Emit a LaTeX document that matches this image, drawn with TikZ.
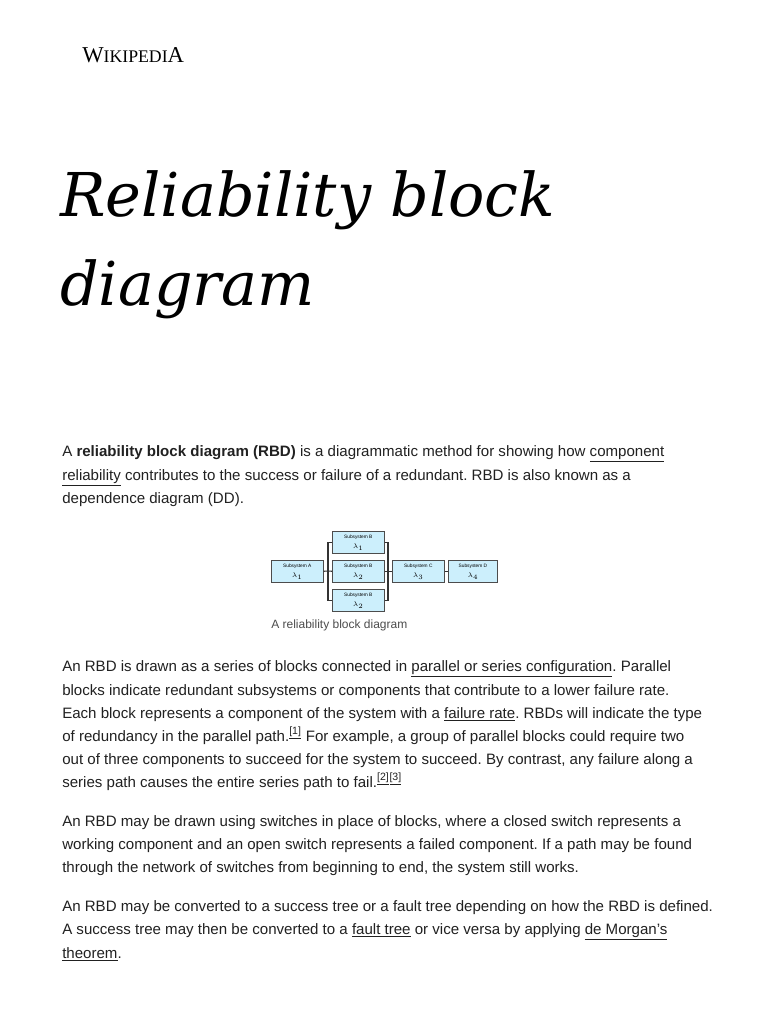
\documentclass[tikz,border=0pt]{standalone}
\usepackage{fontspec}
\setmainfont{Liberation Sans}
\newfontfamily\titlefont{DejaVu Serif}
\newfontfamily\logofont{Liberation Serif}
\newcommand{\lk}[1]{\underline{#1}}
\newcommand{\rf}[1]{\textsuperscript{\underline{#1}}}
\frenchspacing
\begin{document}
\begin{tikzpicture}[x=0.75pt,y=-0.75pt,
  body/.style={anchor=base west,inner sep=0pt,font=\fontsize{11.3}{13}\selectfont,text=black!87},
  blk/.style={draw=black!70,fill=cyan!20,line width=0.4pt,minimum width=39pt,minimum height=16.5pt,inner sep=0pt,anchor=north west},
  tiny/.style={font=\fontsize{3.6}{4}\selectfont,inner sep=0pt},
  wire/.style={line width=0.8pt,black!80}]
\useasboundingbox (0,0) rectangle (768,1024);
\fill[white] (0,0) rectangle (768,1024);
\node[anchor=base west,inner sep=0pt] (logo) at (82,63) {\logofont\fontsize{17}{17}\selectfont W\fontsize{13.3}{14}\selectfont IKIPEDI\fontsize{17}{17}\selectfont A};
\node[anchor=base west,inner sep=0pt] (t1) at (60,216) {\titlefont\itshape\fontsize{45.3}{50}\selectfont Reliability block};
\node[anchor=base west,inner sep=0pt] (t2) at (60,305) {\titlefont\itshape\fontsize{45.3}{50}\selectfont diagram};
\node[body] (p1) at (62,456) {A \textbf{reliability block diagram (RBD)} is a diagrammatic method for showing how \lk{component}};
\node[body] (p2) at (62,480) {\lk{reliability} contributes to the success or failure of a redundant. RBD is also known as a};
\node[body] (p3) at (62,503) {dependence diagram (DD).};
% diagram
\node[blk] (A) at (271,560) {};
\node[blk] (B1) at (332,531) {};
\node[blk] (B2) at (332,560) {};
\node[blk] (B3) at (332,589) {};
\node[blk] (C) at (392,560) {};
\node[blk,minimum width=37pt] (D) at (448,560) {};
\foreach \n/\t/\l in {A/Subsystem A/1,B1/Subsystem B/1,B2/Subsystem B/2,B3/Subsystem B/2,C/Subsystem C/3,D/Subsystem D/4}{
  \node[tiny] at ([yshift=-4.5pt]\n.north) {\t};
  \node[tiny] at ([yshift=4.5pt]\n.south) {$\lambda_{\l}$};
}
\coordinate (L) at (328,571);
\coordinate (R) at (388,571);
\draw[wire] (A.east) -- (L);
\draw[wire] (B1.west) -| (L) |- (B3.west);
\draw[wire] (L) -- (B2.west);
\draw[wire] (B1.east) -| (R) |- (B3.east);
\draw[wire] (B2.east) -- (C.west);
\draw[wire] (C.east) -- (D.west);
\node[anchor=base west,inner sep=0pt,font=\fontsize{9}{10}\selectfont,text=black!70] (cap) at (271,628) {A reliability block diagram};
\node[body] (q1) at (62,671) {An RBD is drawn as a series of blocks connected in \lk{parallel or series configuration}. Parallel};
\node[body] (q2) at (62,695) {blocks indicate redundant subsystems or components that contribute to a lower failure rate.};
\node[body] (q3) at (62,718) {Each block represents a component of the system with a \lk{failure rate}. RBDs will indicate the type};
\node[body] (q4) at (62,741) {of redundancy in the parallel path.\rf{[1]} For example, a group of parallel blocks could require two};
\node[body] (q5) at (62,764) {out of three components to succeed for the system to succeed. By contrast, any failure along a};
\node[body] (q6) at (62,787) {series path causes the entire series path to fail.\rf{[2]}\rf{[3]}};
\node[body] (r1) at (62,826) {An RBD may be drawn using switches in place of blocks, where a closed switch represents a};
\node[body] (r2) at (62,849) {working component and an open switch represents a failed component. If a path may be found};
\node[body] (r3) at (62,872) {through the network of switches from beginning to end, the system still works.};
\node[body] (s1) at (62,911) {An RBD may be converted to a success tree or a fault tree depending on how the RBD is defined.};
\node[body] (s2) at (62,934) {A success tree may then be converted to a \lk{fault tree} or vice versa by applying \lk{de Morgan's}};
\node[body] (s3) at (62,958) {\lk{theorem}.};
\end{tikzpicture}
\end{document}
